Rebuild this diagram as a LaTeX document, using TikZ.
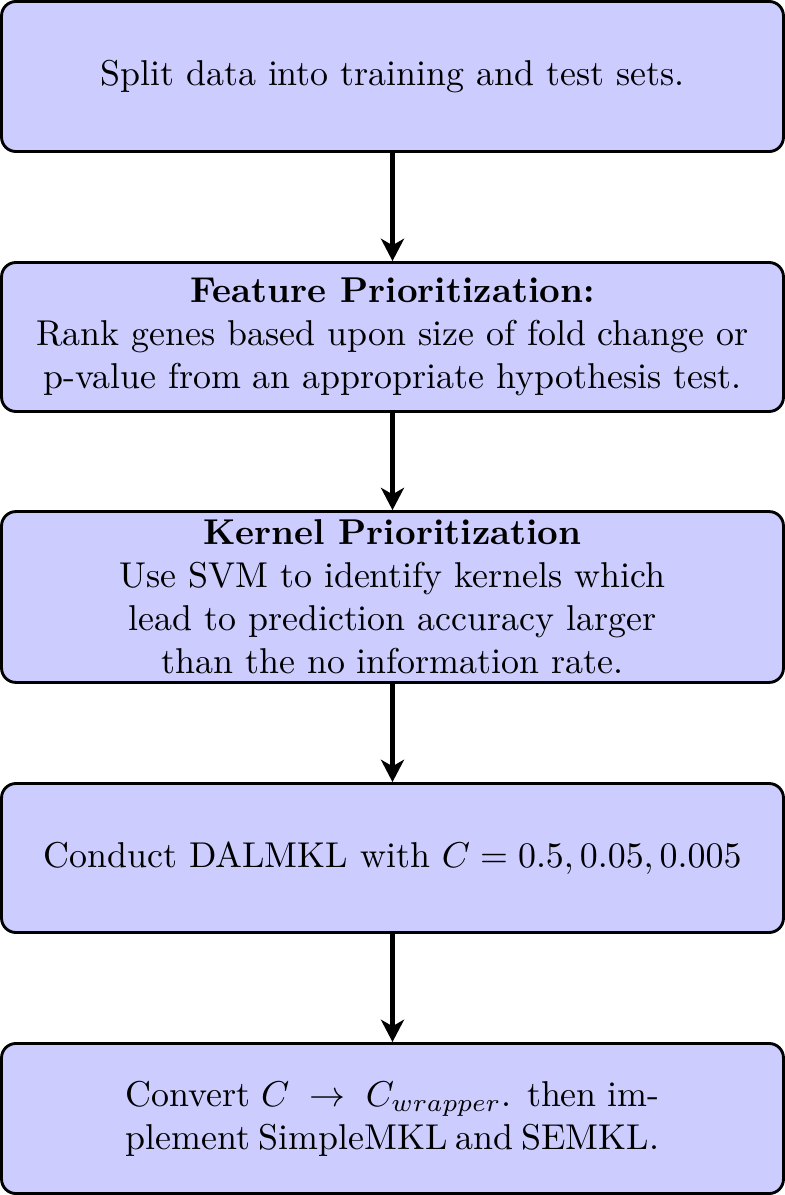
\documentclass[tikz,border=0pt]{standalone}
\usetikzlibrary{arrows.meta}
\begin{document}
\begin{tikzpicture}[x=0.27855pt,y=-0.27855pt,
  stepbox/.style={draw=black, thick, fill=blue!20, rounded corners=4pt,
    minimum width=217.8pt, align=center, inner sep=0pt},
  flow/.style={-{Stealth[length=6.2pt,width=6.4pt,inset=1.8pt]}, line width=1.6pt}]
\useasboundingbox (0,0) rectangle (785,1195);
\node[stepbox, minimum height=41.8pt] (b1) at (392.5,76.5)
  {Split data into training and test sets.};
\node[stepbox, minimum height=41.5pt] (b2) at (392.5,337)
  {\textbf{Feature Prioritization:}\\Rank genes based upon size of fold change or\\p-value from an appropriate hypothesis test.};
\node[stepbox, minimum height=47.6pt] (b3) at (392.5,597)
  {\textbf{Kernel Prioritization}\\Use SVM to identify kernels which\\lead to prediction accuracy larger\\than the no information rate.};
\node[stepbox, minimum height=41.5pt] (b4) at (392.5,858)
  {Conduct DALMKL with $C=0.5, 0.05, 0.005$};
\node[stepbox, minimum height=41.8pt, text width=148.5pt, align=justify] (b5) at (392.5,1118.5)
  {Convert $C\ \rightarrow\ C_{wrapper}$. then im-\linebreak plement SimpleMKL and SEMKL.};
\draw[flow] (b1) -- (b2);
\draw[flow] (b2) -- (b3);
\draw[flow] (b3) -- (b4);
\draw[flow] (b4) -- (b5);
\end{tikzpicture}
\end{document}
